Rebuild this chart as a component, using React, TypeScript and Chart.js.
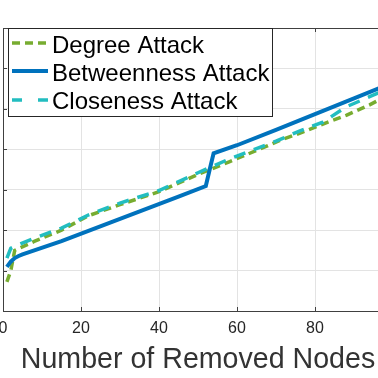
import React, { useEffect, useRef } from "react";
import { Chart, registerables } from "chart.js";

Chart.register(...registerables);

const xTicks = [0, 20, 40, 60, 80, 100];
const yTicks = [0, 1, 2, 3, 4, 5, 6, 7];
const seriesLabels = ["Degree Attack", "Betweenness Attack", "Closeness Attack"];
const xTitle = "Number of Removed Nodes";

const degreeX = [1, 2, 3, 8, 15, 22, 30, 40, 50, 58, 65, 71, 77, 83, 88, 94, 97, 100];
const degreeY = [0.72, 1.0, 1.5, 1.72, 2.0, 2.36, 2.63, 2.95, 3.38, 3.69, 3.97, 4.22, 4.43, 4.66, 4.84, 5.1, 5.25, 5.45];

const betweenX = [1, 2, 3, 4, 5, 15, 30, 45, 52, 53, 54, 60, 70, 80, 90, 100];
const betweenY = [1.09, 1.22, 1.31, 1.36, 1.4, 1.73, 2.28, 2.83, 3.09, 3.5, 3.9, 4.1, 4.48, 4.87, 5.26, 5.65];

const closeX = [1, 2, 3, 8, 15, 22, 30, 40, 50, 58, 64, 70, 76, 82, 88, 94, 100];
const closeY = [1.31, 1.55, 1.6, 1.8, 2.05, 2.38, 2.67, 2.98, 3.42, 3.76, 3.98, 4.2, 4.45, 4.67, 5.05, 5.3, 5.55];

const FONT = "'Liberation Sans', Arial, Helvetica, sans-serif";
const AXIS = "#404040";

const zip = (xs: number[], ys: number[]) => xs.map((x, i) => ({ x, y: ys[i] }));

const decorPlugin = {
  id: "decor",
  afterDraw(chart: any) {
    const { ctx, chartArea, scales } = chart;
    const { left, right, top, bottom } = chartArea;
    ctx.save();
    ctx.strokeStyle = AXIS;
    ctx.lineWidth = 1;
    ctx.beginPath();
    ctx.moveTo(left, Math.round(top) + 0.5);
    ctx.lineTo(right, Math.round(top) + 0.5);
    ctx.moveTo(Math.round(right) + 0.5, top);
    ctx.lineTo(Math.round(right) + 0.5, bottom);
    ctx.stroke();
    ctx.beginPath();
    xTicks.forEach((v) => {
      const px = Math.round(scales.x.getPixelForValue(v)) + 0.5;
      ctx.moveTo(px, bottom);
      ctx.lineTo(px, bottom - 4);
      ctx.moveTo(px, top);
      ctx.lineTo(px, top + 4);
    });
    yTicks.forEach((v) => {
      const py = Math.round(scales.y.getPixelForValue(v)) + 0.5;
      ctx.moveTo(left, py);
      ctx.lineTo(left + 4, py);
      ctx.moveTo(right, py);
      ctx.lineTo(right - 4, py);
    });
    ctx.stroke();

    const lx = Math.round(left) + 5;
    const ly = Math.round(top);
    const lw = 264;
    const lh = 88;
    ctx.fillStyle = "#ffffff";
    ctx.fillRect(lx, ly, lw, lh);
    ctx.strokeStyle = "#262626";
    ctx.lineWidth = 1;
    ctx.strokeRect(lx + 0.5, ly + 0.5, lw, lh);
    const sampleY = [15, 43, 72];
    const textY = [25, 53, 81];
    const sampleDash = [[8, 5], [], [10, 16]];
    chart.data.datasets.forEach((ds: any, i: number) => {
      ctx.save();
      ctx.strokeStyle = ds.borderColor;
      ctx.lineWidth = ds.borderWidth;
      ctx.setLineDash(sampleDash[i]);
      ctx.beginPath();
      ctx.moveTo(lx + 4, ly + sampleY[i]);
      ctx.lineTo(lx + 40, ly + sampleY[i]);
      ctx.stroke();
      ctx.restore();
      ctx.fillStyle = "#000000";
      ctx.font = `24px ${FONT}`;
      ctx.textBaseline = "alphabetic";
      ctx.textAlign = "left";
      ctx.fillText(ds.label, lx + 44, ly + textY[i]);
    });
    ctx.restore();
  },
};

export default function App() {
  const ref = useRef<HTMLCanvasElement | null>(null);

  useEffect(() => {
    const canvas = ref.current;
    if (!canvas) return;
    const chart = new Chart(canvas, {
      type: "line",
      data: {
        datasets: [
          {
            label: seriesLabels[0],
            data: zip(degreeX, degreeY),
            borderColor: "#77AC30",
            borderWidth: 3.5,
            borderDash: [8, 5],
            pointRadius: 0,
            tension: 0,
            fill: false,
            order: 2,
          },
          {
            label: seriesLabels[1],
            data: zip(betweenX, betweenY),
            borderColor: "#0072BD",
            borderWidth: 4,
            pointRadius: 0,
            tension: 0,
            fill: false,
            order: 1,
          },
          {
            label: seriesLabels[2],
            data: zip(closeX, closeY),
            borderColor: "#22BDC0",
            borderWidth: 3.5,
            borderDash: [12, 9],
            pointRadius: 0,
            tension: 0,
            fill: false,
            order: 0,
          },
        ],
      },
      options: {
        animation: false,
        responsive: false,
        devicePixelRatio: 1,
        layout: { padding: { left: 23, right: 37, top: 28, bottom: 0 } },
        plugins: {
          legend: { display: false },
          tooltip: { enabled: false },
        },
        scales: {
          x: {
            type: "linear",
            min: 0,
            max: 100,
            afterBuildTicks: (s: any) => {
              s.ticks = xTicks.map((v) => ({ value: v }));
            },
            afterFit: (s: any) => {
              s.height = 67;
            },
            ticks: {
              padding: 8,
              color: "#262626",
              font: { family: FONT, size: 16 },
              maxRotation: 0,
            },
            grid: { color: "#e3e3e3", lineWidth: 1, drawTicks: false },
            border: { display: true, color: AXIS, width: 1 },
            title: {
              display: true,
              text: xTitle,
              color: "#333333",
              font: { family: FONT, size: 28.6 },
              padding: { top: 0, bottom: 1 },
            },
          },
          y: {
            type: "linear",
            min: 0,
            max: 7,
            afterBuildTicks: (s: any) => {
              s.ticks = yTicks.map((v) => ({ value: v }));
            },
            afterFit: (s: any) => {
              s.width = 0;
            },
            ticks: { display: false },
            grid: { color: "#e3e3e3", lineWidth: 1, drawTicks: false },
            border: { display: true, color: AXIS, width: 1 },
          },
        },
      },
      plugins: [decorPlugin],
    });
    return () => chart.destroy();
  }, []);

  return (
    <div
      style={{
        position: "fixed",
        left: 0,
        top: 0,
        width: 378,
        height: 378,
        overflow: "hidden",
        background: "#ffffff",
      }}
    >
      <canvas
        ref={ref}
        width={450}
        height={378}
        style={{ position: "absolute", left: -20, top: 0, width: 450, height: 378 }}
      />
    </div>
  );
}
